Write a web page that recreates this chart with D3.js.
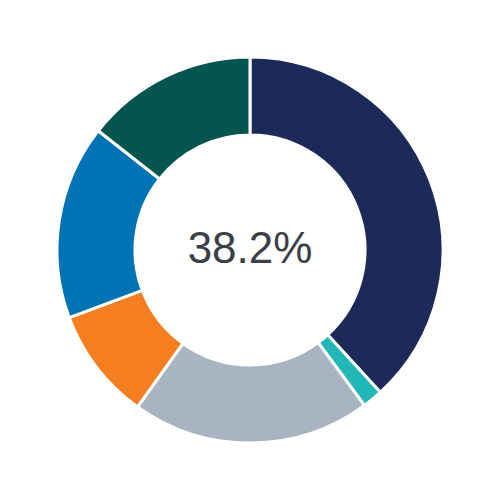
<!DOCTYPE html>
<html><head><meta charset="utf-8">
<script src="https://cdn.jsdelivr.net/npm/d3@7"></script>
<style>html,body{margin:0;padding:0;background:#fff;}</style>
</head><body>
<svg id="chart" width="500" height="500"></svg>
<script>
const categories = ["A", "B", "C", "D", "E", "F"];
const values = [38.2, 1.7, 20.0, 9.4, 16.3, 14.4];
const colors = ["#1c2a59", "#21b7b7", "#a9b4c3", "#f47e20", "#0073b4", "#04544f"];
const centerLabel = "38.2%";

const svg = d3.select("#chart");
const g = svg.append("g").attr("transform", "translate(250,250)");
const data = categories.map((c, i) => ({cat: c, value: values[i], color: colors[i]}));
const pie = d3.pie().value(d => d.value).sort(null);
const arc = d3.arc().innerRadius(115).outerRadius(193);
g.selectAll("path").data(pie(data)).join("path")
  .attr("d", arc)
  .attr("fill", d => d.data.color)
  .attr("stroke", "#fff")
  .attr("stroke-width", 3);
g.append("text")
  .attr("x", 0).attr("y", 13)
  .attr("text-anchor", "middle")
  .attr("font-family", "Liberation Sans, Arial, sans-serif")
  .attr("font-size", 44)
  .attr("fill", "#3b3f47")
  .text(centerLabel);
</script>
</body></html>
